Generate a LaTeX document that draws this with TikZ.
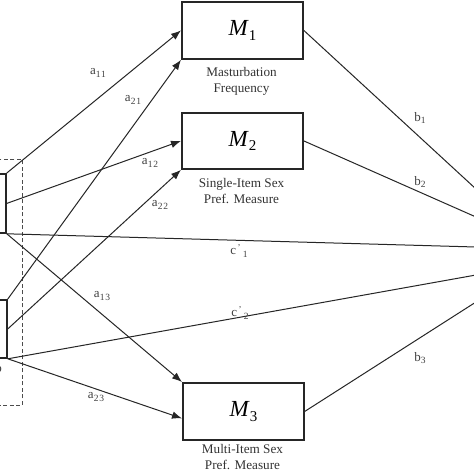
\documentclass[tikz,border=0pt]{standalone}
\usepackage{fontspec}
\setmainfont{Liberation Serif}
\usetikzlibrary{arrows.meta,calc,positioning}
\newcommand{\subl}[2]{#1\raisebox{-2.8pt}{\fontsize{9.5}{9.5}\selectfont\addfontfeature{LetterSpace=8} #2}}
\newcommand{\Mlab}[1]{{\fontsize{23}{23}\selectfont\textit{M}\raisebox{-4.5pt}{\fontsize{15}{15}\selectfont #1}}}
\begin{document}
\begin{tikzpicture}[x=1pt,y=-1pt,
  box/.style={draw=black!85,line width=1.8pt,rectangle,inner sep=0pt,anchor=north west},
  conn/.style={draw=black!85,line width=1pt},
  arr/.style={conn,-{Latex[length=10pt,width=7.5pt]}},
  caption/.style={text=black!80,font=\fontsize{13.2}{16}\selectfont,align=center,inner sep=0pt,anchor=north},
  lab/.style={text=black!75,font=\fontsize{13}{13}\selectfont,inner sep=0pt},
  dashbox/.style={draw=black!70,line width=0.9pt,dash pattern=on 4pt off 2.5pt}]
\useasboundingbox (0,0) rectangle (474,474);
\clip (0,0) rectangle (474,474);
\fill[white] (0,0) rectangle (474,474);
% mediator boxes
\node[box,minimum width=121pt,minimum height=57pt] (M1) at (181,1) {\Mlab{1}};
\node[box,minimum width=121pt,minimum height=56pt] (M2) at (181,112) {\Mlab{2}};
\node[box,minimum width=121pt,minimum height=57pt] (M3) at (182,382) {\Mlab{3}};
% predictor boxes (cut off at the left)
\node[box,minimum width=65pt,minimum height=59pt] (X1) at (-60,173) {};
\node[box,minimum width=66pt,minimum height=58pt] (X2) at (-60,299) {};
% outcome box (beyond right edge)
\node[box,minimum width=100pt,minimum height=150pt] (Y) at (476,170) {};
% dashed grouping box
\node[dashbox,rectangle,inner sep=0pt,anchor=north west,minimum width=32pt,minimum height=246pt] (G) at (-10,159) {};
% captions
\node[caption] (C1) at (241.5,67) {Masturbation\\Frequency};
\node[caption] (C2) at (241.5,178) {Single-Item Sex\\Pref. Measure};
\node[caption] (C3) at (242.5,444) {Multi-Item Sex\\Pref. Measure};
% points on Y
\coordinate (Y1) at ($(Y.north west)+(0,19)$);
\coordinate (Y2) at ($(Y.north west)+(0,47)$);
\coordinate (Y3) at ($(Y.north west)+(0,77)$);
\coordinate (Y4) at ($(Y.north west)+(0,105)$);
\coordinate (Y5) at ($(Y.north west)+(0,132)$);
% a paths
\draw[arr] (X1.north east) -- (M1.west);
\draw[arr] (X1.east) -- (M2.west);
\draw[arr] (X1.south east) -- (M3.north west);
\draw[arr] (X2.north east) -- (M1.south west);
\draw[arr] (X2.east) -- (M2.south west);
\draw[arr] (X2.south east) -- ([yshift=-7pt]M3.west);
% b paths
\draw[conn] (M1.east) -- (Y1);
\draw[conn] (M2.east) -- (Y2);
\draw[conn] (M3.east) -- (Y5);
% c' paths
\draw[conn] (X1.south east) -- (Y3);
\draw[conn] (X2.south east) -- (Y4);
% labels
\node[lab] (la11) at (98,73) {\subl{a}{11}};
\node[lab] (la21) at (133,100) {\subl{a}{21}};
\node[lab] (la12) at (150,163) {\subl{a}{12}};
\node[lab] (la22) at (160,205) {\subl{a}{22}};
\node[lab] (la13) at (102,296) {\subl{a}{13}};
\node[lab] (la23) at (96,397) {\subl{a}{23}};
\node[lab] (lb1) at (420,118) {\subl{b}{1}};
\node[lab] (lb2) at (420,182) {\subl{b}{2}};
\node[lab] (lb3) at (420,358) {\subl{b}{3}};
\node[lab] (lc1) at (239,251) {c\raisebox{3.5pt}{\fontsize{9}{9}\selectfont\,'}\,\raisebox{-2.8pt}{\fontsize{9.5}{9.5}\selectfont 1}};
\node[lab] (lc2) at (240,313) {c\raisebox{3.5pt}{\fontsize{9}{9}\selectfont\,'}\,\raisebox{-2.8pt}{\fontsize{9.5}{9.5}\selectfont 2}};
\node[lab] (frag) at (-1.5,368) {b};
\end{tikzpicture}
\end{document}
